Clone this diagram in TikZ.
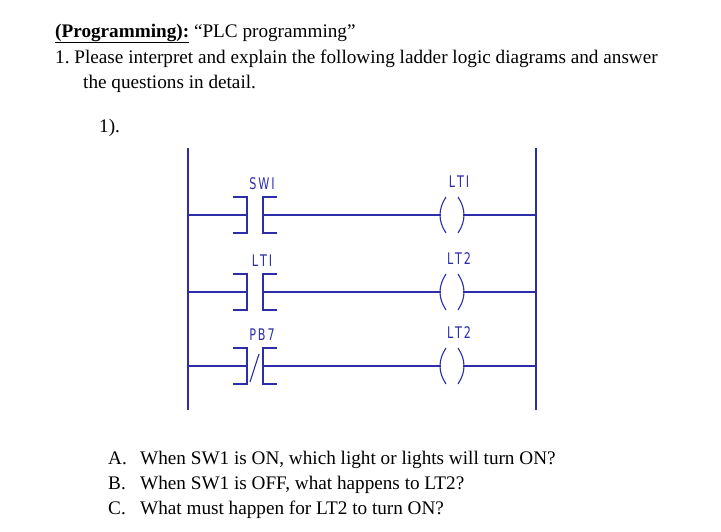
\documentclass[tikz,border=0pt]{standalone}
\usepackage{fontspec}
\setmainfont{Liberation Serif}
\setsansfont{DejaVu Sans}
\definecolor{lad}{RGB}{45,45,170}
\begin{document}
\begin{tikzpicture}[x=1pt,y=-1pt,
  wire/.style={lad,line width=1.1pt},
  lbl/.style={lad,font=\sffamily\fontsize{16}{16}\selectfont,xscale=0.7,inner sep=0},
  txt/.style={anchor=base west,inner sep=0,font=\fontsize{19.2}{20}\selectfont}]
\useasboundingbox (0,0) rectangle (721,531);
\node[txt] (t0) at (55,37) {\underline{\textbf{(Programming):}} “PLC programming”};
\node[txt] (t1) at (55,63) {1.\ Please interpret and explain the following ladder logic diagrams and answer};
\node[txt] (t2) at (83,88) {the questions in detail.};
\node[txt] (t3) at (99,132) {1).};
\coordinate (lt) at (188,148); \coordinate (lb) at (188,410);
\coordinate (rt) at (536,148); \coordinate (rb) at (536,410);
\draw[wire] (lt) -- (lb); \draw[wire] (rt) -- (rb);
\foreach \y/\a/\b/\nc in {215/S\,W\,I/L\,T\,I/0,292/L\,T\,I/L\,T\,2/0,366/P\,B\,7/L\,T\,2/1}{
  \coordinate (l\y) at (188,\y); \coordinate (r\y) at (536,\y);
  \coordinate (ca\y) at (247,\y); \coordinate (cb\y) at (263,\y);
  \coordinate (pa\y) at (441,\y); \coordinate (pb\y) at (463,\y);
  \draw[wire] (l\y) -- (ca\y);
  \draw[wire] (233,\y-18) -- (247,\y-18) -- (247,\y+18) -- (233,\y+18);
  \draw[wire] (277,\y-18) -- (263,\y-18) -- (263,\y+18) -- (277,\y+18);
  \draw[wire] (cb\y) -- (pa\y);
  \draw[wire] (pb\y) -- (r\y);
  \draw[wire] (446,\y-18) .. controls (438,\y-6) and (438,\y+6) .. (446,\y+18);
  \draw[wire] (458,\y-18) .. controls (466,\y-6) and (466,\y+6) .. (458,\y+18);
  \ifnum\nc=1 \draw[wire] (250,\y+16) -- (259,\y-12); \fi
  \node[lbl] (ln\y) at (262,\y-31) {\a};
  \node[lbl] (lc\y) at (459,\y-33) {\b};
}
\node[txt] (qa) at (108,464) {A.}; \node[txt] (qa2) at (140,464) {When SW1 is ON, which light or lights will turn ON?};
\node[txt] (qb) at (108,489) {B.}; \node[txt] (qb2) at (140,489) {When SW1 is OFF, what happens to LT2?};
\node[txt] (qc) at (108,514) {C.}; \node[txt] (qc2) at (140,514) {What must happen for LT2 to turn ON?};
\end{tikzpicture}
\end{document}
